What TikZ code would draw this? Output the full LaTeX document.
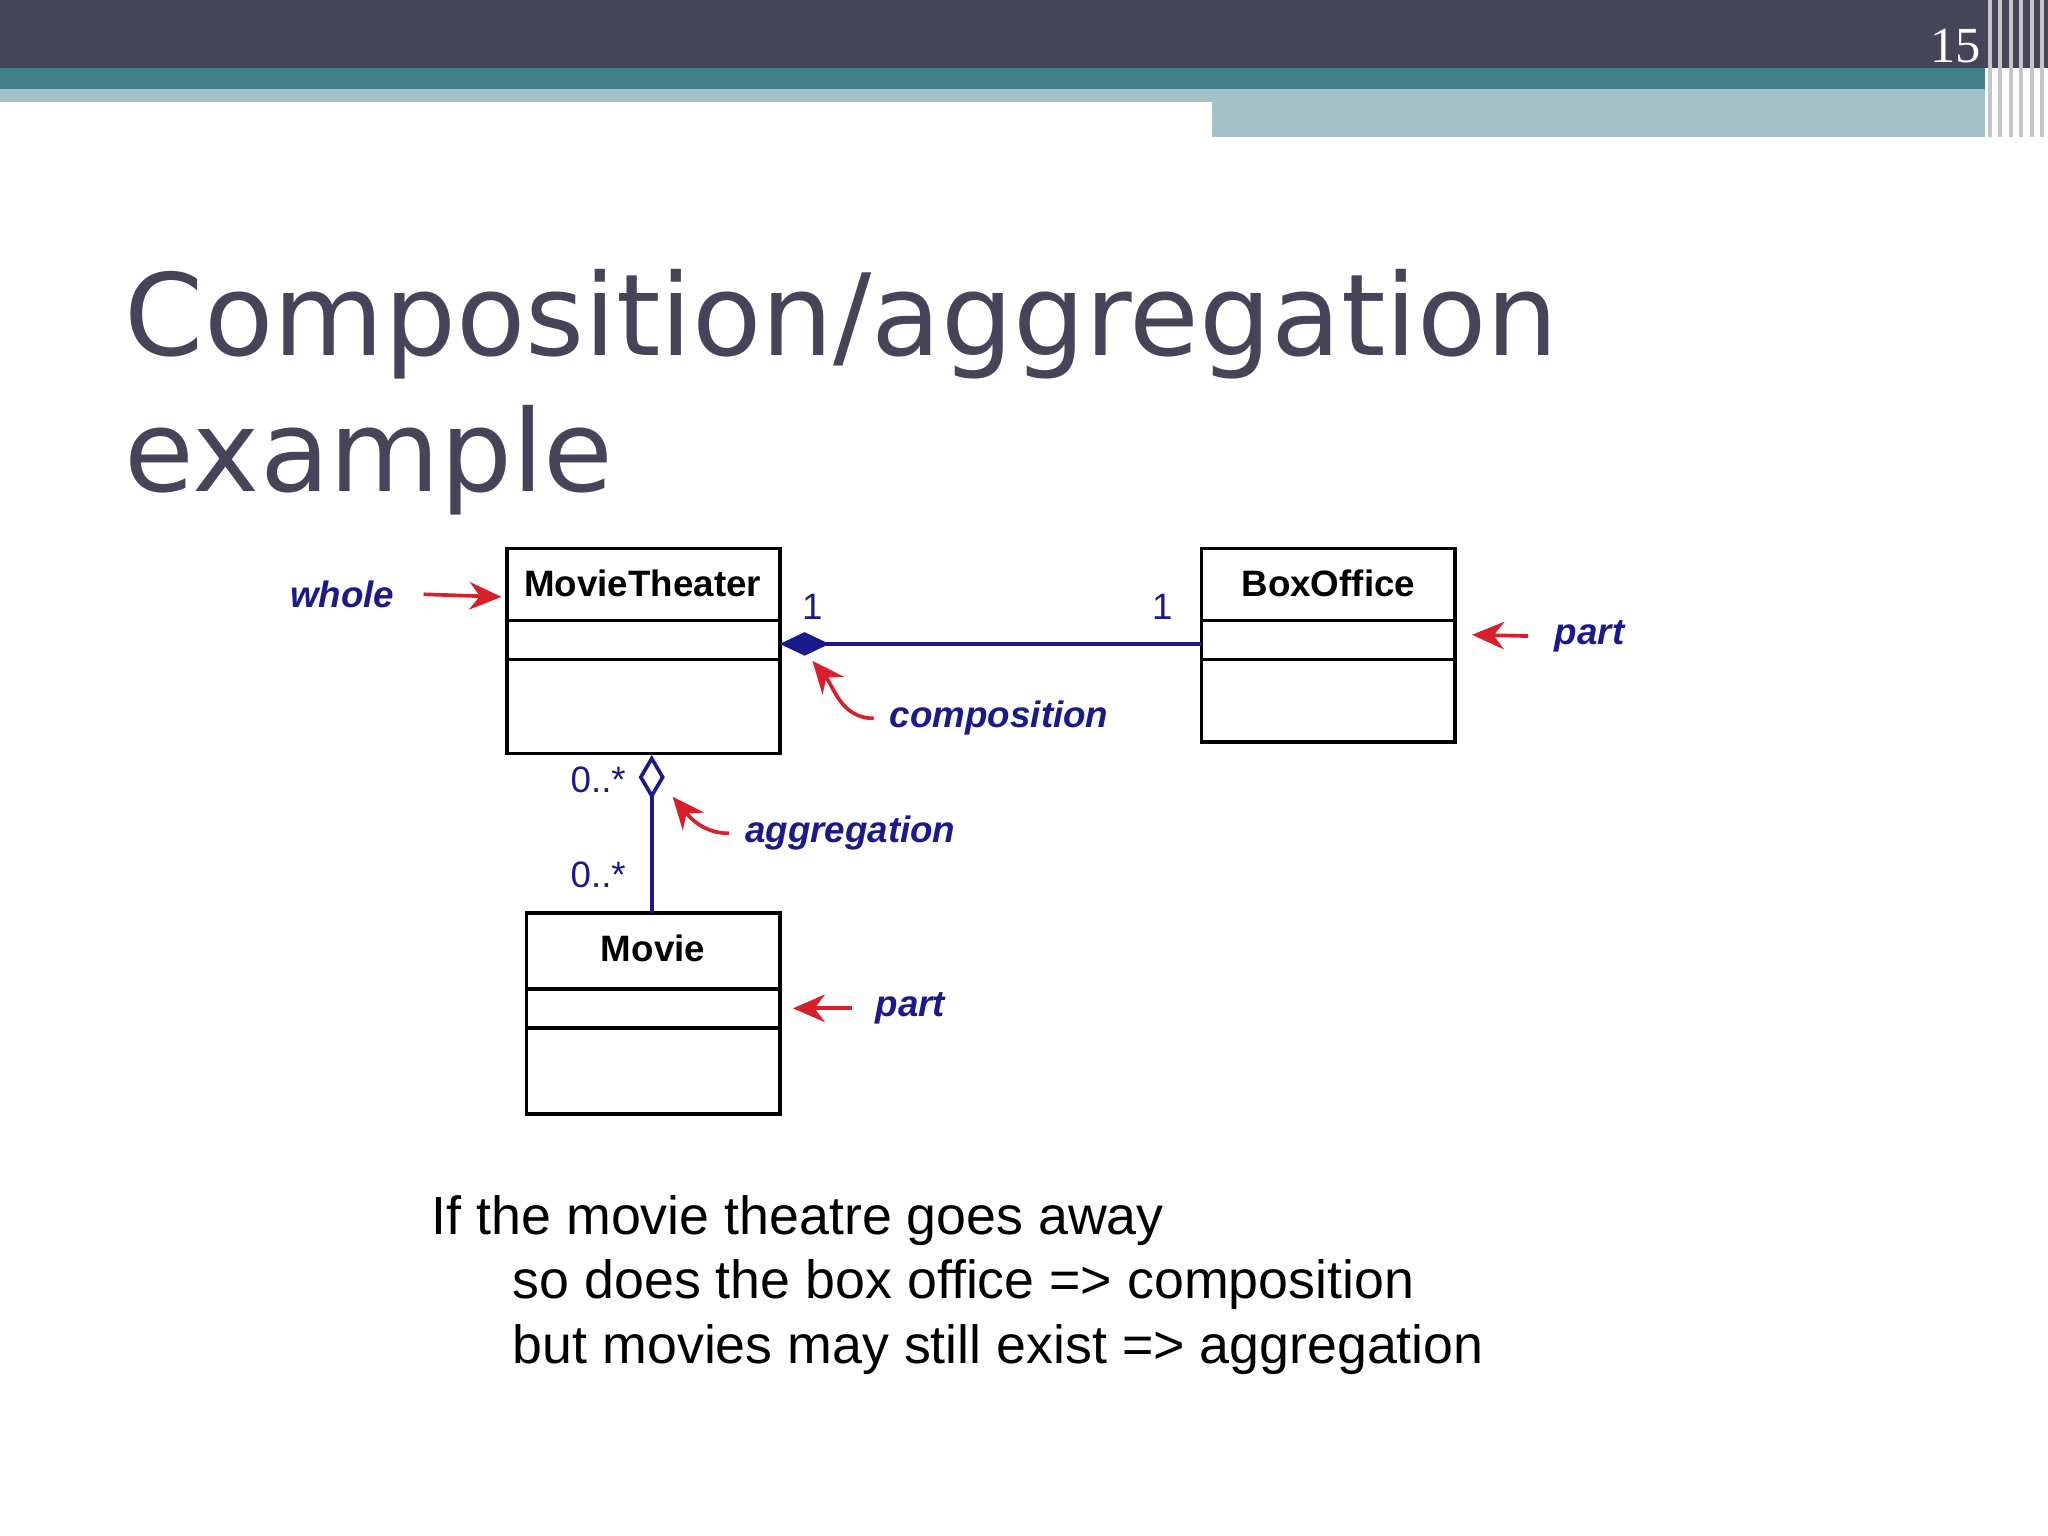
\documentclass[tikz,border=0pt]{standalone}
\usepackage{fontspec}
\setmainfont{DejaVu Sans}
\newfontfamily\umlfont{Liberation Sans}
\newfontfamily\numfont{Liberation Serif}
\usetikzlibrary{positioning, arrows.meta}
\definecolor{slate}{HTML}{454459}
\definecolor{teal}{HTML}{44808A}
\definecolor{paleteal}{HTML}{A3C1C6}
\definecolor{navy}{HTML}{1A1A8C}
\definecolor{umlred}{HTML}{D9202A}
\tikzset{
    classbox/.style={draw, thick, fill=white},
    classname/.style={font=\umlfont\bfseries\fontsize{8}{9}\selectfont, anchor=north},
    note/.style={font=\umlfont\itshape\bfseries\fontsize{8}{9}\selectfont, text=navy},
    mult/.style={font=\umlfont\fontsize{8}{9}\selectfont, text=navy},
    pointer/.style={draw=umlred, thick, -{Stealth[length=7pt,width=6pt]}},
    assoc/.style={draw=navy, thick}
}
\begin{document}
\begin{tikzpicture}[x=0.01cm, y=-0.01cm]
	\useasboundingbox (0,0) rectangle (1568,1176);
	% header bars
	\fill[slate] (0,0) rectangle (1568,52);
	\fill[teal] (0,52) rectangle (1520,68);
	\fill[paleteal] (0,68) rectangle (928,78);
	\fill[paleteal] (928,68) rectangle (1520,105);
	\foreach \x in {1522,1530,1538,1546,1554,1562}
		\fill[gray!45] (\x,0) rectangle ++(3,105);
	\node[text=white, font=\numfont\fontsize{11}{13}\selectfont] (pagenum) at (1497,35) {15};
	% title
	\node[anchor=base west, text=slate, font=\fontsize{24.7}{27}\selectfont, inner sep=0] (title1) at (95,272) {Composition/aggregation};
	\node[anchor=base west, text=slate, font=\fontsize{24.7}{27}\selectfont, inner sep=0] (title2) at (95,376) {example};
	% classes
	\draw[classbox] (388,420) rectangle (597,577);
	\draw[thick] (388,475) -- (597,475) (388,505) -- (597,505);
	\node[classname] (theater) at (492,424) {MovieTheater};
	\draw[classbox] (920,420) rectangle (1114,568);
	\draw[thick] (920,475) -- (1114,475) (920,505) -- (1114,505);
	\node[classname] (boxoffice) at (1017,424) {BoxOffice};
	\draw[classbox] (403,699) rectangle (597,853);
	\draw[thick] (403,757) -- (597,757) (403,787) -- (597,787);
	\node[classname] (movie) at (500,703) {Movie};
	\coordinate (theaterE) at (597,493);
	\coordinate (boxofficeW) at (920,493);
	\coordinate (theaterS) at (499,578);
	\coordinate (movieN) at (499,699);
	% associations
	\draw[assoc, {Diamond[fill=navy,length=0.38cm,width=0.18cm]}-] (theaterE) -- (boxofficeW);
	\draw[assoc, {Diamond[open,fill=white,length=0.34cm,width=0.2cm]}-] (theaterS) -- (movieN);
	\node[mult] (m1) at (622,465) {1};
	\node[mult] (m2) at (890,465) {1};
	\node[mult] (m3) at (458,597) {0..*};
	\node[mult] (m4) at (458,670) {0..*};
	% annotations
	\node[note] (whole) at (262,455) {whole};
	\draw[pointer] (whole.east) ++(10,0) -- (384,457);
	\node[note] (part1) at (1217,487) {part};
	\draw[pointer] (part1.west) ++(-8,0) -- (1127,486);
	\node[note] (comp) at (765,550) {composition};
	\draw[pointer] (comp.west) to[out=180,in=-50] (622,506);
	\node[note] (aggr) at (651,638) {aggregation};
	\draw[pointer] (aggr.west) to[out=180,in=-50] (515,610);
	\node[note] (part2) at (697,772) {part};
	\draw[pointer] (part2.west) ++(-6,0) -- (607,772);
	% caption
	\begin{scope}[every node/.style={anchor=base west, inner sep=0, font=\umlfont\fontsize{11.7}{13}\selectfont}]
		\node (cap1) at (330,945) {If the movie theatre goes away};
		\node (cap2) at (392,994) {so does the box office => composition};
		\node (cap3) at (392,1044) {but movies may still exist => aggregation};
	\end{scope}
\end{tikzpicture}
\end{document}
